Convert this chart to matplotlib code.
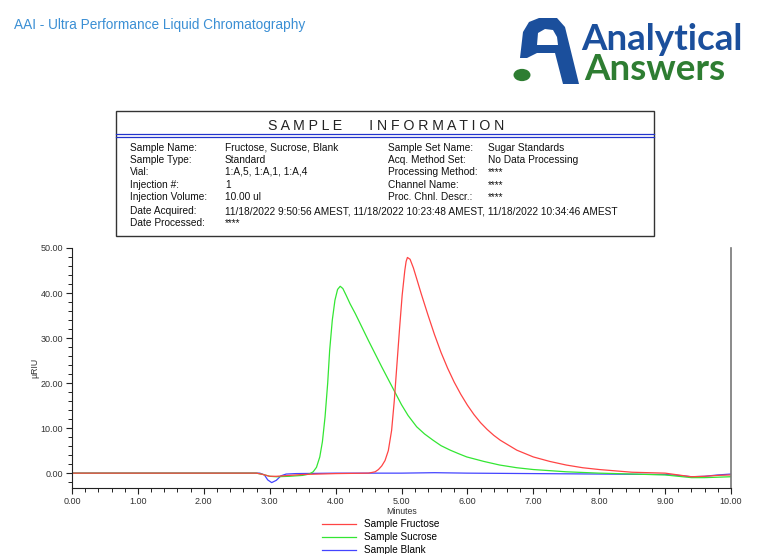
import matplotlib
matplotlib.use("Agg")
import matplotlib.pyplot as plt
from matplotlib.patches import Rectangle, Polygon, Circle
from matplotlib.lines import Line2D
from matplotlib.ticker import MultipleLocator, FormatStrFormatter

plt.rcParams['font.family'] = ['Liberation Sans', 'DejaVu Sans']

# ---------------- data ----------------
fructose_t = [0, 2.8, 2.9, 3.0, 3.1, 3.3, 3.5, 4.0, 4.5, 4.6, 4.65, 4.7, 4.75, 4.8, 4.85, 4.89,
              4.93, 4.97, 5.01, 5.05, 5.07, 5.09, 5.13, 5.18, 5.23, 5.3, 5.4, 5.5, 5.6, 5.7,
              5.8, 5.9, 6.0, 6.1, 6.2, 6.3, 6.4, 6.5, 6.75, 7.0, 7.25, 7.5, 7.75, 8.0, 8.5,
              9.0, 9.2, 9.4, 9.6, 9.8, 10.0]
fructose_y = [0, 0, -0.3, -0.7, -0.7, -0.5, -0.3, -0.1, 0.0, 0.3, 0.8, 1.6, 2.8, 5.0, 9.5, 16.0,
              24.0, 32.0, 39.5, 45.0, 47.0, 47.9, 47.5, 45.6, 43.2, 39.8, 35.2, 30.8, 26.8, 23.3,
              20.2, 17.5, 15.1, 13.0, 11.2, 9.7, 8.4, 7.3, 5.1, 3.6, 2.6, 1.8, 1.2, 0.8, 0.2,
              0.0, -0.4, -0.8, -0.7, -0.5, -0.4]

sucrose_t = [0, 2.8, 2.9, 3.0, 3.1, 3.3, 3.5, 3.6, 3.66, 3.71, 3.76, 3.8, 3.84, 3.88, 3.91, 3.95,
             3.99, 4.03, 4.07, 4.11, 4.16, 4.22, 4.3, 4.4, 4.5, 4.6, 4.7, 4.8, 4.9, 5.0, 5.1,
             5.23, 5.35, 5.48, 5.6, 5.74, 5.87, 5.99, 6.25, 6.49, 6.75, 7.0, 7.5, 8.0, 8.5,
             9.0, 9.2, 9.4, 9.6, 9.8, 10.0]
sucrose_y = [0, 0, -0.3, -0.7, -0.8, -0.7, -0.5, -0.2, 0.3, 1.3, 3.6, 7.0, 12.5, 20.0, 27.3, 34.0,
             38.4, 40.8, 41.5, 41.0, 39.5, 37.6, 35.4, 32.4, 29.4, 26.5, 23.6, 20.8, 18.0, 15.2,
             12.8, 10.3, 8.7, 7.3, 6.1, 5.1, 4.3, 3.6, 2.6, 1.8, 1.2, 0.8, 0.3, 0.0, -0.2,
             -0.4, -0.7, -1.0, -1.0, -0.9, -0.8]

blank_t = [0, 2.85, 2.92, 2.97, 3.03, 3.1, 3.17, 3.25, 3.4, 4.0, 5.0, 5.5, 6.0, 7.0, 8.0, 9.0,
           9.2, 9.4, 9.6, 9.8, 10.0]
blank_y = [0, 0, -0.4, -1.5, -2.1, -1.6, -0.6, -0.2, -0.1, 0, 0, 0.1, 0, -0.1, -0.2, -0.3,
           -0.5, -0.8, -0.7, -0.4, -0.2]

series_names = ["Sample Fructose", "Sample Sucrose", "Sample Blank"]
series_colors = ["#ff4444", "#33e633", "#4444ff"]

info_left_labels = ["Sample Name:", "Sample Type:", "Vial:", "Injection #:", "Injection Volume:"]
info_left_values = ["Fructose, Sucrose, Blank", "Standard", "1:A,5, 1:A,1, 1:A,4", "1", "10.00 ul"]
info_right_labels = ["Sample Set Name:", "Acq. Method Set:", "Processing Method:", "Channel Name:",
                     "Proc. Chnl. Descr.:"]
info_right_values = ["Sugar Standards", "No Data Processing", "****", "****", "****"]
date_acquired = "11/18/2022 9:50:56 AMEST, 11/18/2022 10:23:48 AMEST, 11/18/2022 10:34:46 AMEST"

W, H = 768, 554
fig = plt.figure(figsize=(W / 100, H / 100), dpi=100)


def fx(px):
    return px / W


def fy(py):
    return 1 - py / H


# ---------------- header ----------------
fig.text(fx(14), fy(25), "AAI - Ultra Performance Liquid Chromatography", color="#3b8fd4",
         fontsize=9.8, va="center", ha="left")

# logo
blue_logo = "#1b4f9c"
green_logo = "#2e7d32"
outer = [(520, 58), (523, 32), (529, 22), (539, 18), (557, 18), (565, 27), (579, 84),
         (563, 84), (555, 53), (537, 53), (527, 58)]
fig.patches.append(Polygon([(fx(x), fy(y)) for x, y in outer], closed=True, transform=fig.transFigure,
                           facecolor=blue_logo, edgecolor="none"))
hole = [(537, 45), (538, 33), (545, 29), (553, 30), (557, 37), (558, 45)]
fig.patches.append(Polygon([(fx(x), fy(y)) for x, y in hole], closed=True, transform=fig.transFigure,
                           facecolor="white", edgecolor="none"))
fig.patches.append(Circle((fx(522), fy(75)), 8.5 / W, transform=fig.transFigure,
                          facecolor=green_logo, edgecolor="none"))
fig.text(fx(581), fy(50), "Analytical", color=blue_logo, fontsize=26.5, fontweight="bold",
         family="Lato", va="baseline", ha="left")
fig.text(fx(584), fy(80), "Answers", color=green_logo, fontsize=26.5, fontweight="bold",
         family="Lato", va="baseline", ha="left")

# ---------------- sample information box ----------------
fig.patches.append(Rectangle((fx(116), fy(236)), fx(654) - fx(116), fy(111) - fy(236),
                             transform=fig.transFigure, facecolor="none", edgecolor="#333333",
                             linewidth=1.0))
for yy in (134, 136.5):
    fig.lines.append(Line2D([fx(116), fx(654)], [fy(yy), fy(yy)], transform=fig.transFigure,
                            color="#2233cc", linewidth=0.9))
fig.text(fx(386), fy(126), "S A M P L E       I N F O R M A T I O N", fontsize=10.2,
         color="#222222", ha="center", va="center")

fs_info = 7.3
row_y = [148, 160, 172, 185, 197]
for i, yy in enumerate(row_y):
    fig.text(fx(130), fy(yy), info_left_labels[i], fontsize=fs_info, va="center", color="#111111")
    fig.text(fx(225), fy(yy), info_left_values[i], fontsize=fs_info, va="center", color="#111111")
    fig.text(fx(388), fy(yy), info_right_labels[i], fontsize=fs_info, va="center", color="#111111")
    fig.text(fx(488), fy(yy), info_right_values[i], fontsize=fs_info, va="center", color="#111111")
fig.text(fx(130), fy(211), "Date Acquired:", fontsize=fs_info, va="center", color="#111111")
fig.text(fx(225), fy(211), date_acquired, fontsize=fs_info, va="center", color="#111111")
fig.text(fx(130), fy(223), "Date Processed:", fontsize=fs_info, va="center", color="#111111")
fig.text(fx(225), fy(223), "****", fontsize=fs_info, va="center", color="#111111")

# ---------------- chromatogram ----------------
ax = fig.add_axes([fx(72), fy(488), fx(731) - fx(72), fy(248) - fy(488)])
l3, = ax.plot(blank_t, blank_y, color=series_colors[2], lw=0.9)
l2, = ax.plot(sucrose_t, sucrose_y, color=series_colors[1], lw=0.9)
l1, = ax.plot(fructose_t, fructose_y, color=series_colors[0], lw=0.9)
ax.set_xlim(0, 10)
ax.set_ylim(-3.3, 50)
ax.spines['top'].set_visible(False)
ax.spines['right'].set_color("#777777")
ax.spines['right'].set_linewidth(1.2)
ax.spines['left'].set_color("#222222")
ax.spines['bottom'].set_color("#222222")
ax.spines['left'].set_linewidth(0.8)
ax.spines['bottom'].set_linewidth(0.8)
ax.xaxis.set_major_locator(MultipleLocator(1))
ax.xaxis.set_minor_locator(MultipleLocator(0.2))
ax.yaxis.set_major_locator(MultipleLocator(10))
ax.yaxis.set_minor_locator(MultipleLocator(2))
ax.xaxis.set_major_formatter(FormatStrFormatter("%.2f"))
ax.yaxis.set_major_formatter(FormatStrFormatter("%.2f"))
ax.tick_params(axis="both", which="major", length=4.5, width=0.8, labelsize=6.5, colors="#222222",
               labelcolor="#333333", pad=2)
ax.tick_params(axis="both", which="minor", length=3, width=0.7, colors="#222222")
ax.set_xlabel("Minutes", fontsize=6.3, color="#333333", labelpad=1)
ax.set_ylabel("µRIU", fontsize=6.3, color="#333333", labelpad=1)

fig.legend([l1, l2, l3], series_names, loc="upper left", bbox_to_anchor=(fx(322), fy(519)),
           frameon=False, fontsize=7.2, handlelength=3.4, handletextpad=0.8, labelspacing=0.3,
           borderaxespad=0, borderpad=0)

fig.savefig("out.png", dpi=100)
